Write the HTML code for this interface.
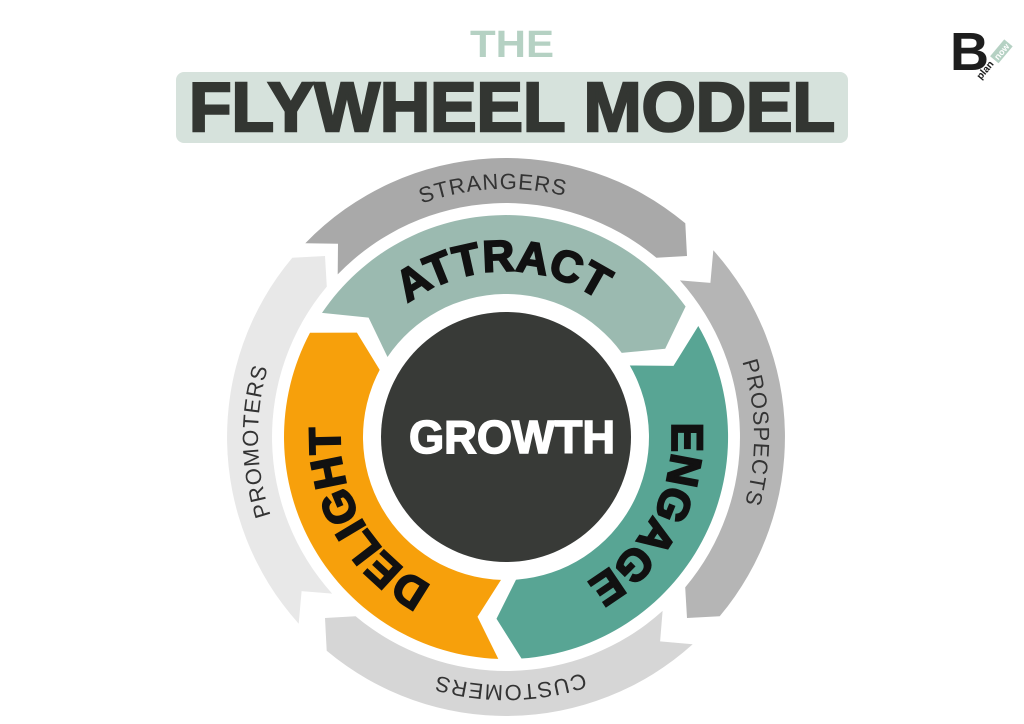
<!DOCTYPE html>
<html><head><meta charset="utf-8"><style>
html,body{margin:0;padding:0;background:#fff;width:1024px;height:724px;overflow:hidden}
svg{display:block}
</style></head><body>
<svg width="1024" height="724" viewBox="0 0 1024 724" xmlns="http://www.w3.org/2000/svg" font-family="Liberation Sans, sans-serif">
<defs>
<path id="tStr" d="M327.6,264.7 A248 248 0 0 1 665.4,247.0"/>
<path id="tPro" d="M690.3,271.1 A248 248 0 0 1 696.0,596.4"/>
<path id="tCus" d="M672.0,621.3 A248 248 0 0 1 346.6,627.0"/>
<path id="tPrm" d="M321.7,603.0 A248 248 0 0 1 316.0,277.6"/>
<path id="tAtt" d="M368.4,344.2 A166 166 0 0 1 640.3,339.4"/>
<path id="tEng" d="M649.8,354.0 A166 166 0 0 1 517.6,602.6"/>
<path id="tDel" d="M500.2,602.9 A166 166 0 0 1 359.4,359.1"/>
</defs>
<text x="512" y="57" text-anchor="middle" font-size="38" font-weight="bold" fill="#b5d1c3" textLength="84" lengthAdjust="spacingAndGlyphs">THE</text>
<rect x="176" y="72" width="672" height="71" rx="8" fill="#d6e2dc"/>
<text x="512" y="131" text-anchor="middle" font-size="70" font-weight="bold" fill="#333632" textLength="646" lengthAdjust="spacingAndGlyphs" stroke="#333632" stroke-width="2.5">FLYWHEEL MODEL</text>
<!-- logo -->
<text x="950" y="70" font-size="54" font-weight="bold" fill="#1e1e1e">B</text>
<text x="0" y="0" font-size="10" font-weight="bold" fill="#1e1e1e" transform="translate(981,80) rotate(-50)">plan</text>
<rect x="0" y="-9" width="22" height="11" fill="#b5d1c3" transform="translate(997,62) rotate(-50)"/>
<text x="2" y="0" font-size="9" font-weight="bold" fill="#fff" transform="translate(997,62) rotate(-50)">now</text>
<!-- outer ring -->
<path d="M305.3,243.2 A279 279 0 0 1 685.3,223.3 L687.0,256.0 L656.4,257.8 A234 234 0 0 0 337.7,274.4 L338.0,243.8 Z" fill="#a9a9a9"/>
<path d="M713.3,250.3 A279 279 0 0 1 719.7,616.3 L687.0,618.0 L685.2,587.4 A234 234 0 0 0 679.9,280.4 L710.4,282.9 Z" fill="#b5b5b5"/>
<path d="M692.7,644.3 A279 279 0 0 1 326.7,650.7 L325.0,618.0 L355.6,616.2 A234 234 0 0 0 662.6,610.9 L660.1,641.4 Z" fill="#d6d6d6"/>
<path d="M298.7,623.7 A279 279 0 0 1 292.3,257.7 L325.0,256.0 L326.8,286.6 A234 234 0 0 0 332.1,593.6 L301.6,591.1 Z" fill="#e8e8e8"/>
<g font-size="22" fill="#333" letter-spacing="1">
<text><textPath href="#tStr" startOffset="50%" text-anchor="middle">STRANGERS</textPath></text>
<text><textPath href="#tPro" startOffset="50%" text-anchor="middle">PROSPECTS</textPath></text>
<text><textPath href="#tCus" startOffset="50%" text-anchor="middle">CUSTOMERS</textPath></text>
<text><textPath href="#tPrm" startOffset="50%" text-anchor="middle">PROMOTERS</textPath></text>
</g>
<!-- inner ring -->
<path d="M322.0,312.9 A222 222 0 0 1 685.6,306.5 L665.2,348.8 L621.7,352.9 A143 143 0 0 0 387.5,357.0 L368.6,317.6 Z" fill="#9bbab0"/>
<path d="M698.3,326.0 A222 222 0 0 1 521.5,658.5 L496.5,618.7 L516.0,579.7 A143 143 0 0 0 629.8,365.5 L673.5,365.9 Z" fill="#58a594"/>
<path d="M498.3,658.9 A222 222 0 0 1 310.0,332.8 L356.9,332.6 L379.7,369.9 A143 143 0 0 0 501.0,579.9 L477.5,616.8 Z" fill="#f7a00b"/>
<g font-size="44" font-weight="bold" fill="#111" stroke="#111" stroke-width="2">
<text><textPath href="#tAtt" startOffset="50%" text-anchor="middle">ATTRACT</textPath></text>
<text><textPath href="#tEng" startOffset="50%" text-anchor="middle">ENGAGE</textPath></text>
<text><textPath href="#tDel" startOffset="50%" text-anchor="middle">DELIGHT</textPath></text>
</g>
<circle cx="506" cy="437" r="125" fill="#383a37"/>
<text x="512" y="453" text-anchor="middle" font-size="46" font-weight="bold" fill="#fff" stroke="#fff" stroke-width="1.5" textLength="206" lengthAdjust="spacingAndGlyphs">GROWTH</text>
</svg>
</body></html>
